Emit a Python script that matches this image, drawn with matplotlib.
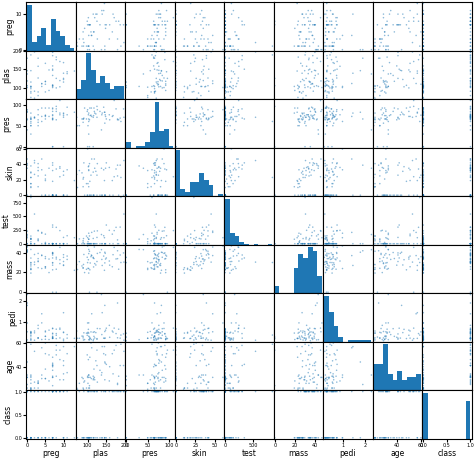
import numpy as np
import pandas as pd
import matplotlib
matplotlib.use('Agg')
import matplotlib.pyplot as plt
from pandas.plotting import scatter_matrix

# first rows of the Pima Indians diabetes data
preg = [6, 1, 8, 1, 0, 5, 3, 10, 2, 8, 4, 10, 10, 1, 5, 7, 0, 7, 1, 1, 3, 8, 7, 9, 11, 10, 7, 1, 13, 5,
        5, 3, 3, 6, 10, 4, 11, 9, 2, 4, 3, 7, 7, 9, 7, 0, 1, 2, 7, 7, 1, 1, 5, 8, 7, 1, 7, 0, 0, 0]
plas = [148, 85, 183, 89, 137, 116, 78, 115, 197, 125, 110, 168, 139, 189, 166, 100, 118, 107, 103, 115,
        126, 99, 196, 119, 143, 125, 147, 97, 145, 117, 109, 158, 88, 92, 122, 103, 138, 102, 90, 111,
        180, 133, 106, 171, 159, 180, 146, 71, 103, 105, 103, 101, 88, 176, 150, 73, 187, 100, 146, 105]
pres = [72, 66, 64, 66, 40, 74, 50, 0, 70, 96, 92, 74, 80, 60, 72, 0, 84, 74, 30, 70,
        88, 84, 90, 80, 94, 70, 76, 66, 82, 92, 75, 76, 58, 92, 78, 60, 76, 76, 68, 72,
        64, 84, 92, 110, 64, 66, 56, 70, 66, 0, 80, 50, 66, 90, 66, 50, 68, 88, 82, 64]
skin = [35, 29, 0, 23, 35, 0, 32, 0, 45, 0, 0, 0, 0, 23, 19, 0, 47, 0, 38, 30,
        41, 0, 0, 35, 33, 26, 0, 15, 19, 0, 26, 36, 11, 0, 31, 33, 0, 37, 42, 47,
        25, 0, 18, 24, 0, 39, 0, 27, 32, 0, 11, 15, 21, 34, 42, 10, 39, 60, 0, 41]
test = [0, 0, 0, 94, 168, 0, 88, 0, 543, 0, 0, 0, 0, 846, 175, 0, 230, 0, 83, 96,
        235, 0, 0, 0, 146, 115, 0, 140, 110, 0, 0, 245, 54, 0, 0, 192, 0, 0, 0, 207,
        70, 0, 0, 240, 0, 0, 0, 0, 0, 0, 82, 36, 23, 300, 342, 0, 304, 110, 0, 142]
mass = [33.6, 26.6, 23.3, 28.1, 43.1, 25.6, 31.0, 35.3, 30.5, 0.0, 37.6, 38.0, 27.1, 30.1, 25.8, 30.0,
        45.8, 29.6, 43.3, 34.6, 39.3, 35.4, 39.8, 29.0, 36.6, 31.1, 39.4, 23.2, 22.2, 34.1, 36.0, 31.6,
        24.8, 19.9, 27.6, 24.0, 33.2, 32.9, 38.2, 37.1, 34.0, 40.2, 22.7, 45.4, 27.4, 42.0, 29.7, 28.0,
        39.1, 0.0, 19.4, 24.2, 24.4, 33.7, 34.7, 23.0, 37.7, 46.8, 40.5, 41.5]
pedi = [0.627, 0.351, 0.672, 0.167, 2.288, 0.201, 0.248, 0.134, 0.158, 0.232, 0.191, 0.537, 1.441, 0.398,
        0.587, 0.484, 0.551, 0.254, 0.183, 0.529, 0.704, 0.388, 0.451, 0.263, 0.254, 0.205, 0.257, 0.487,
        0.245, 0.337, 0.546, 0.851, 0.267, 0.188, 0.512, 0.966, 0.420, 0.665, 0.503, 1.390, 0.271, 0.696,
        0.235, 0.721, 0.294, 1.893, 0.564, 0.586, 0.344, 0.305, 0.491, 0.526, 0.342, 0.467, 0.718, 0.248,
        0.254, 0.962, 1.781, 0.173]
age = [50, 31, 32, 21, 33, 30, 26, 29, 53, 54, 30, 34, 57, 59, 51, 32, 31, 31, 33, 32,
       27, 50, 41, 29, 51, 41, 43, 22, 57, 38, 60, 28, 22, 28, 45, 33, 35, 46, 27, 56,
       26, 37, 48, 54, 40, 25, 29, 22, 31, 24, 22, 26, 30, 58, 42, 21, 41, 31, 44, 22]
cls = [1, 0, 1, 0, 1, 0, 1, 0, 1, 1, 0, 1, 0, 1, 1, 1, 1, 1, 0, 1,
       0, 0, 1, 1, 1, 1, 1, 0, 0, 0, 0, 1, 0, 0, 0, 0, 0, 1, 1, 1,
       0, 0, 0, 1, 0, 1, 0, 0, 1, 0, 0, 0, 0, 1, 0, 0, 1, 0, 0, 0]

data = pd.DataFrame({'preg': preg, 'plas': plas, 'pres': pres, 'skin': skin, 'test': test,
                     'mass': mass, 'pedi': pedi, 'age': age, 'class': cls})

fig, ax = plt.subplots(9, 9, figsize=(4.74, 4.62), dpi=100)
scatter_matrix(data, ax=ax, s=5, alpha=0.5)
for a in ax.flatten():
    a.xaxis.label.set_size(5.5)
    a.yaxis.label.set_size(5.5)
    a.xaxis.labelpad = 1
    a.yaxis.labelpad = 1
    a.tick_params(labelsize=3.5, length=2, pad=1)
    for t in a.get_xticklabels():
        t.set_rotation(0)
plt.subplots_adjust(left=0.055, right=0.995, top=0.995, bottom=0.05, wspace=0, hspace=0)
plt.savefig('out.png', dpi=100)
